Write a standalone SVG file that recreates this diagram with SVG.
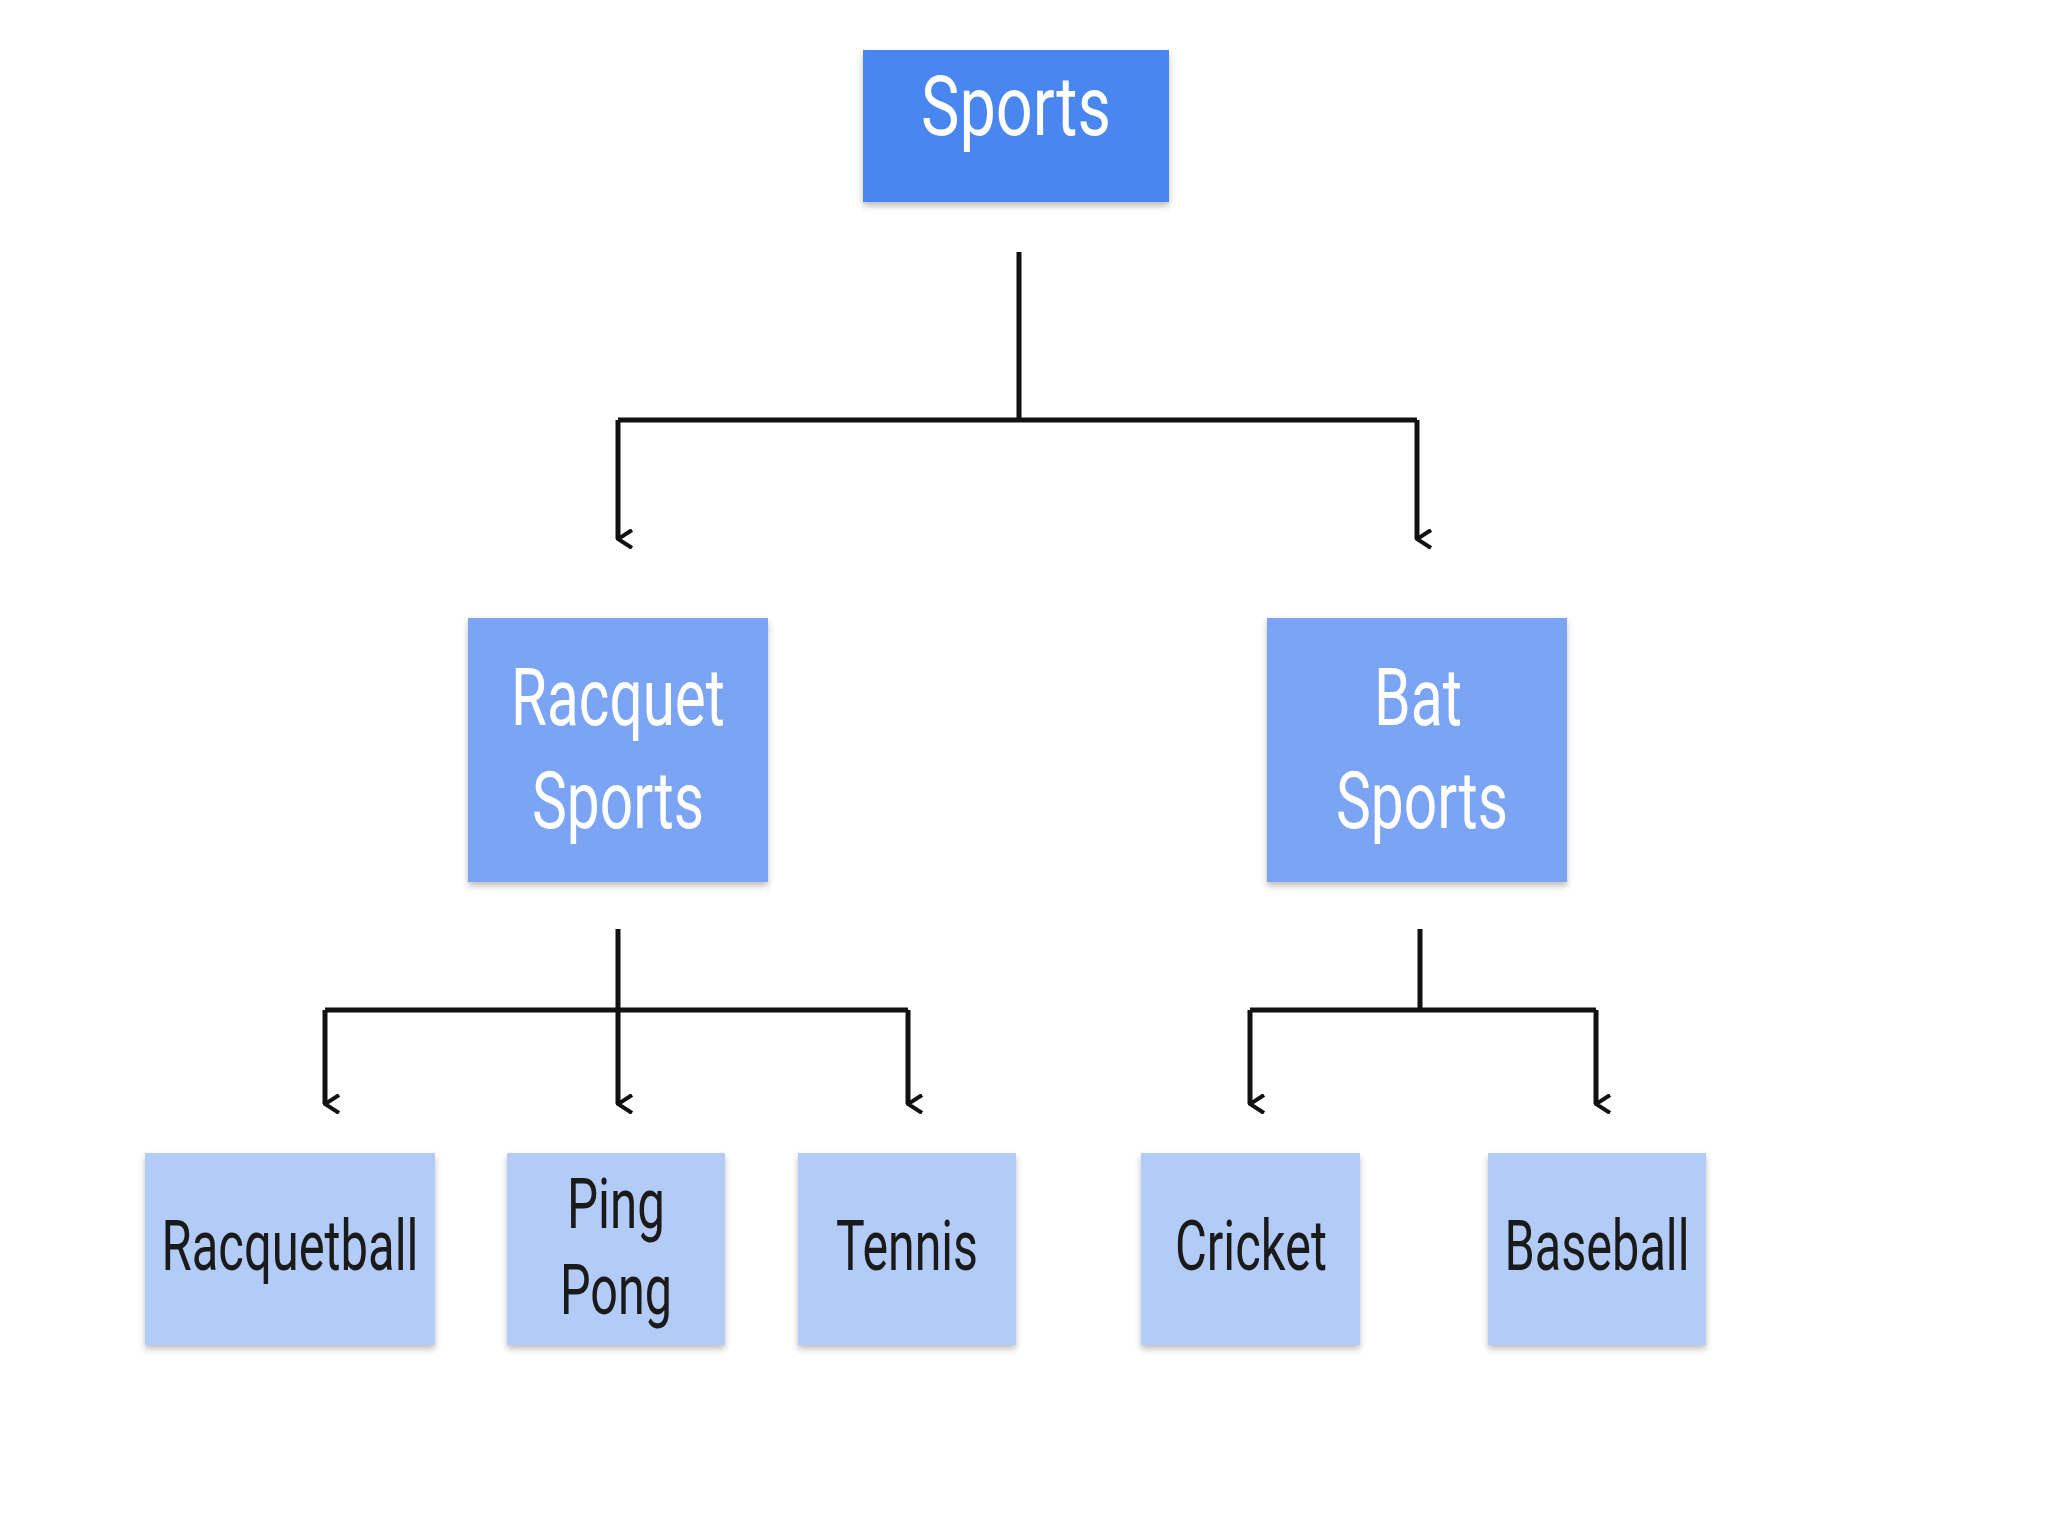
<svg xmlns="http://www.w3.org/2000/svg" width="2048" height="1536" viewBox="0 0 2048 1536">
<style>
.c{fill:none;stroke:#111;stroke-width:5}
.t{font-family:Roboto,"Liberation Sans",sans-serif;text-anchor:middle}
.w{fill:#fff}
.d{fill:#1a1a1a}
</style>
<defs>
<marker id="a" viewBox="0 0 20 20" refX="10" refY="18" markerWidth="20" markerHeight="20" markerUnits="userSpaceOnUse" orient="auto-start-reverse">
<path d="M1,4 L10,18 L19,4" fill="none" stroke="#111" stroke-width="4"/>
</marker>
<filter id="s" x="-10%" y="-10%" width="120%" height="130%"><feDropShadow dx="0" dy="4" stdDeviation="3" flood-color="#000" flood-opacity="0.25"/></filter>
</defs>
<rect width="2048" height="1536" fill="#fff"/>
<g id="connectors">
<path class="c" d="M1019,252 V420 M618,420 H1417"/>
<path class="c" d="M618,420 V539" transform="rotate(180 618 480) rotate(180 618 480)" marker-end="url(#a)"/>
<path class="c" d="M1417,420 V539" marker-end="url(#a)"/>
<path class="c" d="M618,929 V1104" marker-end="url(#a)"/>
<path class="c" d="M325,1010 H908"/>
<path class="c" d="M325,1010 V1104" marker-end="url(#a)"/>
<path class="c" d="M908,1010 V1104" marker-end="url(#a)"/>
<path class="c" d="M1420,929 V1010 M1250,1010 H1596"/>
<path class="c" d="M1250,1010 V1104" marker-end="url(#a)"/>
<path class="c" d="M1596,1010 V1104" marker-end="url(#a)"/>
</g>
<g id="sports"><rect x="863" y="50" width="306" height="152" fill="#4a86f0" filter="url(#s)"/><text class="t w" x="1016" y="135" font-size="84" textLength="190" lengthAdjust="spacingAndGlyphs">Sports</text></g>
<g id="racquet"><rect x="468" y="618" width="300" height="264" fill="#7ba4f5" filter="url(#s)"/>
<text class="t w" x="618" y="725" font-size="80" textLength="214" lengthAdjust="spacingAndGlyphs">Racquet</text>
<text class="t w" x="618" y="828" font-size="80" textLength="172" lengthAdjust="spacingAndGlyphs">Sports</text></g>
<g id="bat"><rect x="1267" y="618" width="300" height="264" fill="#7ba4f5" filter="url(#s)"/>
<text class="t w" x="1418" y="725" font-size="80" textLength="88" lengthAdjust="spacingAndGlyphs">Bat</text>
<text class="t w" x="1422" y="828" font-size="80" textLength="172" lengthAdjust="spacingAndGlyphs">Sports</text></g>
<g id="racquetball"><rect x="145" y="1153" width="290" height="192" fill="#b3cbf7" filter="url(#s)"/>
<text class="t d" x="290" y="1270" font-size="70" textLength="257" lengthAdjust="spacingAndGlyphs">Racquetball</text></g>
<g id="pingpong"><rect x="507" y="1153" width="218" height="192" fill="#b3cbf7" filter="url(#s)"/>
<text class="t d" x="616" y="1228" font-size="70" textLength="98" lengthAdjust="spacingAndGlyphs">Ping</text>
<text class="t d" x="616" y="1314" font-size="70" textLength="112" lengthAdjust="spacingAndGlyphs">Pong</text></g>
<g id="tennis"><rect x="798" y="1153" width="218" height="192" fill="#b3cbf7" filter="url(#s)"/>
<text class="t d" x="907" y="1270" font-size="70" textLength="142" lengthAdjust="spacingAndGlyphs">Tennis</text></g>
<g id="cricket"><rect x="1141" y="1153" width="219" height="192" fill="#b3cbf7" filter="url(#s)"/>
<text class="t d" x="1251" y="1270" font-size="70" textLength="152" lengthAdjust="spacingAndGlyphs">Cricket</text></g>
<g id="baseball"><rect x="1488" y="1153" width="218" height="192" fill="#b3cbf7" filter="url(#s)"/>
<text class="t d" x="1597" y="1270" font-size="70" textLength="185" lengthAdjust="spacingAndGlyphs">Baseball</text></g>
</svg>
